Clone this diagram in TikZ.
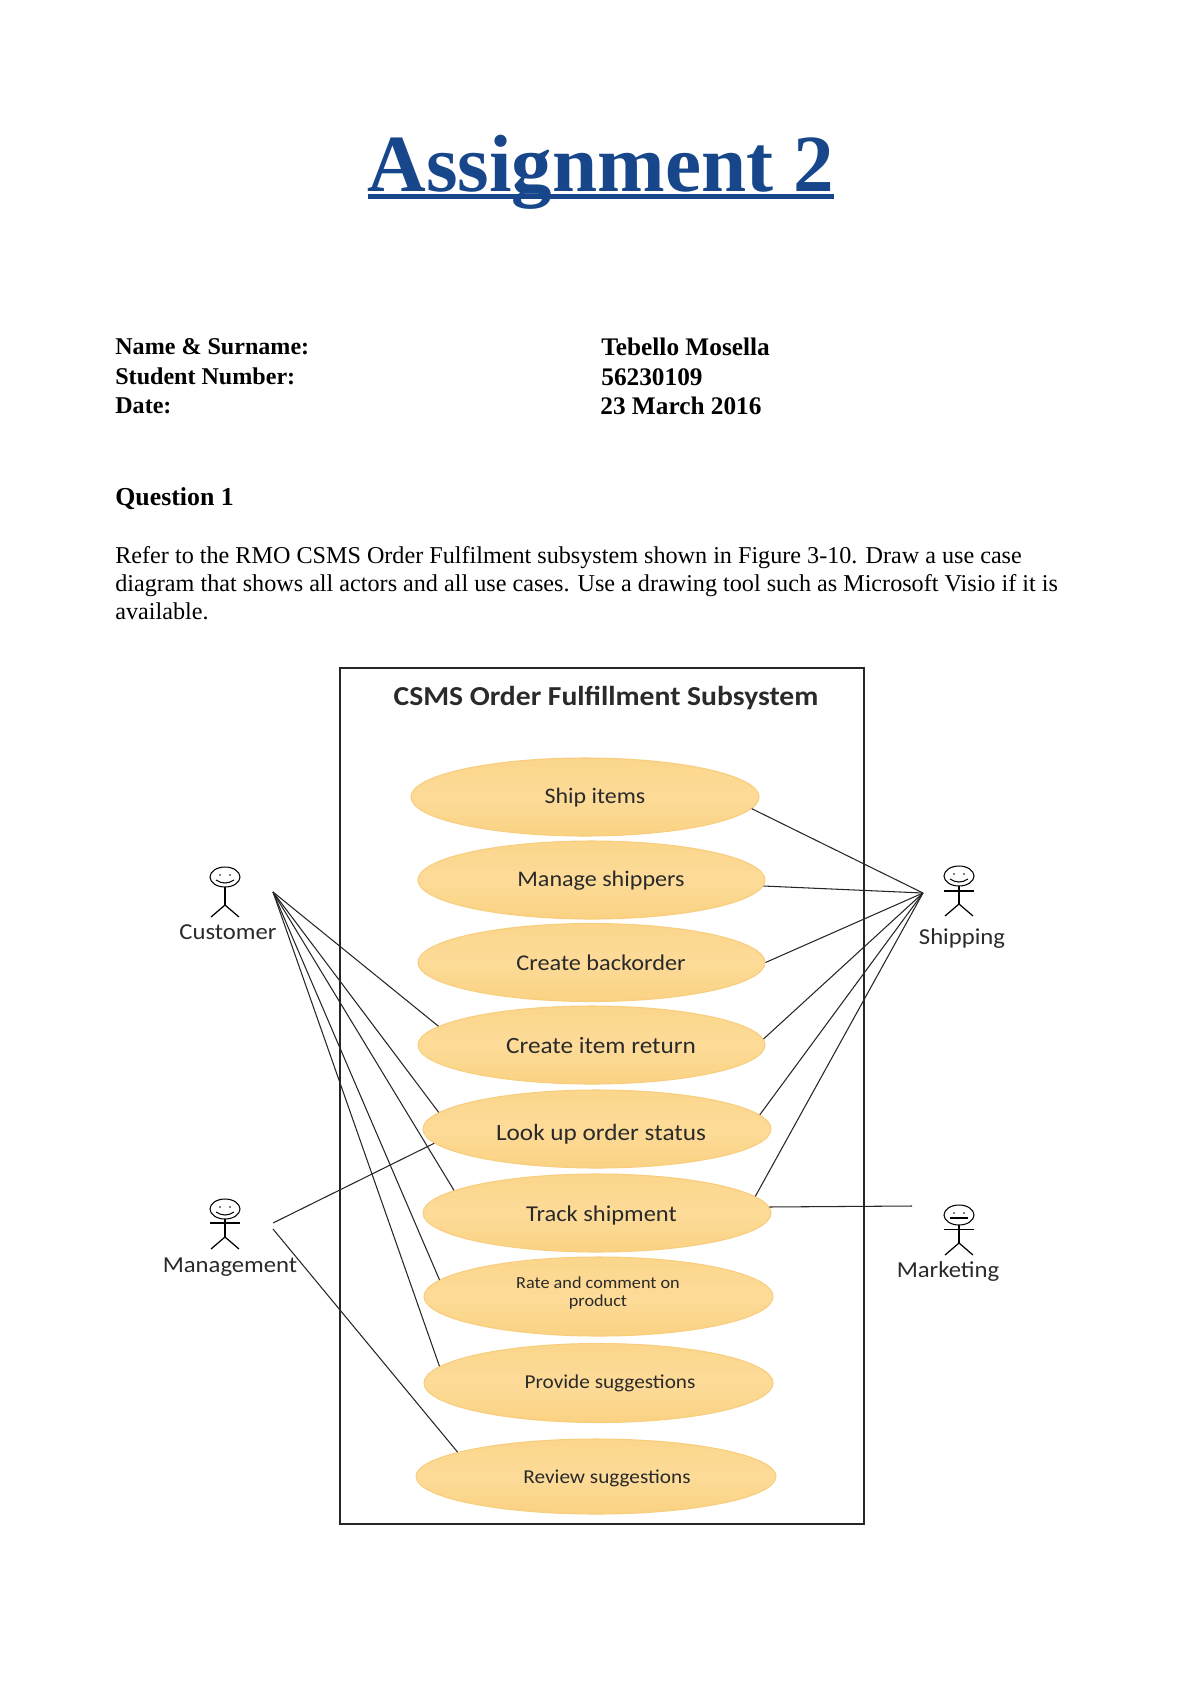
\documentclass[tikz,border=0pt]{standalone}
\usepackage{fontspec}
\setmainfont{Liberation Serif}
\newfontfamily\umlfont[FakeStretch=1.08]{Carlito}
\usetikzlibrary{shapes.geometric}
\definecolor{titleblue}{HTML}{17468A}
\definecolor{caseedge}{HTML}{F8CE7E}
\definecolor{casetop}{HTML}{FBD68C}
\definecolor{casemid}{HTML}{FDDB98}
\definecolor{casebot}{HTML}{FAD283}
\definecolor{umlink}{HTML}{2A2A2A}
\tikzset{
  bodytext/.style={anchor=west,inner sep=0pt,font=\fontsize{13.75}{16}\selectfont},
  headtext/.style={anchor=west,inner sep=0pt,font=\bfseries\fontsize{13.7}{16}\selectfont},
  valuetext/.style={anchor=west,inner sep=0pt,font=\bfseries\fontsize{14.4}{16}\selectfont},
  usecase/.style={ellipse,draw=caseedge,line width=0.6pt,inner sep=0pt,
    top color=casetop,bottom color=casebot,middle color=casemid},
  caselabel/.style={inner sep=0pt,align=center,text=umlink},
  actorlabel/.style={inner sep=0pt,text=umlink,font=\umlfont\fontsize{13}{15}\selectfont},
  assoc/.style={line width=0.6pt,black!85},
}
\begin{document}
\begin{tikzpicture}[x=0.02cm,y=-0.02cm]
\useasboundingbox (0,0) rectangle (1200,1698);
% ================= heading =================
\node[inner sep=0pt,text=titleblue,font=\bfseries\fontsize{46.2}{56}\selectfont] (title) at (601,172) {Assignment 2};
\draw[titleblue,line width=2.6pt] (368,196.5) -- (834,196.5);
% ================= details =================
\node[headtext] (namelabel) at (115,347) {Name \& Surname:};
\node[headtext] (numberlabel) at (115,376) {Student Number:};
\node[headtext] (datelabel) at (115,405.5) {Date:};
\node[valuetext] (namevalue) at (601,347) {Tebello Mosella};
\node[valuetext] (numbervalue) at (601,377) {56230109};
\node[valuetext] (datevalue) at (600,406) {23 March 2016};
% ================= question =================
\node[headtext,font=\bfseries\fontsize{14.7}{17}\selectfont] (question) at (115,499) {Question 1};
\node[bodytext] (lineone) at (115,558) {Refer to the RMO CSMS Order Fulfilment subsystem shown in Figure 3-10. Draw a use case};
\node[bodytext] (linetwo) at (115,586) {diagram that shows all actors and all use cases. Use a drawing tool such as Microsoft Visio if it is};
\node[bodytext] (linethree) at (115,611) {available.};
% ================= system box =================
\draw[line width=0.9pt,black!85] (340,668) rectangle (864,1524);
\node[inner sep=0pt,text=umlink,font=\umlfont\bfseries\fontsize{15.6}{18}\selectfont] (systemname) at (606,698) {CSMS Order Fulfillment Subsystem};
% use cases: name/centre/half axes
\foreach \nm/\cx/\cy/\rx/\ry in {
  ship/585/797/174/39, manage/591.5/880/173.5/39, backorder/591.5/962.5/173.5/39,
  itemreturn/591.5/1045/173.5/39, lookup/597/1129/174/39, track/597/1213/174/39,
  rate/598.5/1296.5/174.5/39.5, provide/598.5/1383/174.5/39.5, review/596/1476.5/180/37.5} {
  \node[usecase,minimum width=2*\rx*0.02cm,minimum height=2*\ry*0.02cm] (\nm) at (\cx,\cy) {};
}
% use case texts, some sit off centre
\foreach \nm/\tx/\ty/\fs/\txt in {
  ship/595/798/12.6/Ship items, manage/601/881/12.7/Manage shippers, backorder/601/963/12.8/Create backorder,
  itemreturn/601/1046/13.3/Create item return, lookup/601/1134/13.3/Look up order status,
  track/601.5/1215/12.9/Track shipment, provide/610/1383/11.2/Provide suggestions,
  review/607/1478/11.2/Review suggestions} {
  \node[caselabel,font=\umlfont\fontsize{\fs}{\fs}\selectfont] (\nm text) at (\tx,\ty) {\txt};
}
\node[caselabel,font=\umlfont\fontsize{9.6}{10.5}\selectfont] (ratetext) at (598,1293) {Rate and comment on\\product};
% ================= actors =================
\foreach \ax/\ay/\lw/\bend in {225/877/0.6/4, 225/1209/0.6/4, 959/876/1.1/4, 959/1215/1.1/0} {
  \draw[line width=0.6pt] (\ax,\ay) ellipse (15 and 10);
  \fill (\ax-5,\ay-2) circle (0.9);
  \fill (\ax+5,\ay-2) circle (0.9);
  \draw[line width=0.6pt] (\ax-9,\ay+3) .. controls (\ax-3,\ay+3+\bend) and (\ax+3,\ay+3+\bend) .. (\ax+9,\ay+3);
  \draw[line width=\lw pt] (\ax,\ay+10) -- (\ax,\ay+28);
  \draw[line width=0.7pt] (\ax-14,\ay+40) -- (\ax,\ay+28) -- (\ax+14,\ay+40);
}
\foreach \ax/\ay in {225/1223, 959/891, 959/1229.5} {
  \draw[line width=0.7pt] (\ax-15,\ay) -- (\ax+15,\ay);
}
\node[actorlabel] (customer) at (228,932) {Customer};
\node[actorlabel] (management) at (230,1267) {Management};
\node[actorlabel] (shipping) at (962,939) {Shipping};
\node[actorlabel] (marketing) at (948,1272) {Marketing};
% free ends next to the actors
\coordinate (customerend) at (273,892);
\coordinate (managementup) at (273,1223);
\coordinate (managementdown) at (273,1229);
\coordinate (shippingend) at (923,893);
\coordinate (marketingend) at (912,1206);
% ================= associations =================
\foreach \to in {itemreturn.173.3, lookup.174.2, track.171.2, rate.174, provide.174.2} {
  \draw[assoc] (customerend) -- (\to);
}
\foreach \to in {ship.-4.2, manage.-2, backorder.0.8, itemreturn.2.3, lookup.5.4, track.6.4} {
  \draw[assoc] (shippingend) -- (\to);
}
\draw[assoc] (managementup) -- (lookup.185.4);
\draw[assoc] (managementdown) -- (review.170.2);
\draw[assoc] (track.2.3) -- (marketingend);
\end{tikzpicture}
\end{document}
